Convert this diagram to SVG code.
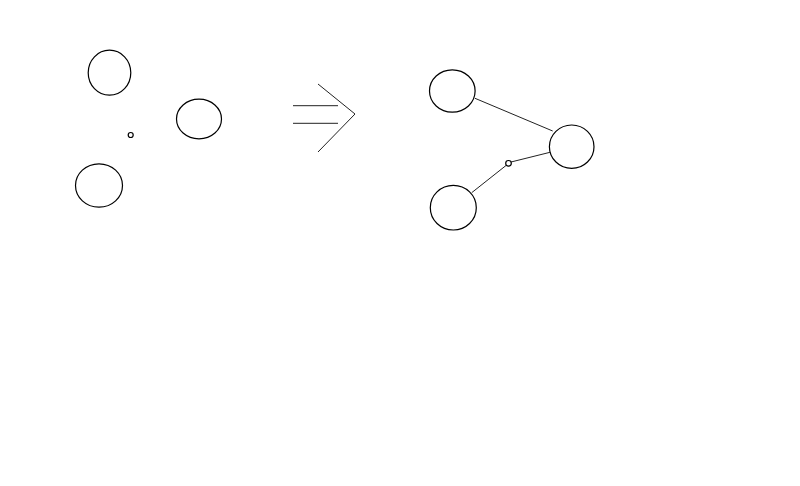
<svg xmlns="http://www.w3.org/2000/svg" width="800" height="486" viewBox="0 0 800 486">
<style>
.n{fill:none;stroke:#000;stroke-width:1.2}
.c{fill:none;stroke:#222;stroke-width:1}
</style>
<rect width="800" height="486" fill="#fff"/>
<g id="left-node-1"><ellipse class="n" cx="109.5" cy="72.7" rx="21.3" ry="22.5"/></g>
<g id="left-node-2"><ellipse class="n" cx="199" cy="119" rx="22.5" ry="19.8"/></g>
<g id="left-node-3"><ellipse class="n" cx="99" cy="185.5" rx="23.5" ry="21.7"/></g>
<g id="left-dot"><circle class="n" cx="130.7" cy="135" r="2.5" stroke-width="0.9"/></g>
<g id="implies-arrow">
<line class="c" x1="293" y1="105.7" x2="338" y2="105.7"/>
<line class="c" x1="293" y1="123.3" x2="338" y2="123.3"/>
<polyline class="c" points="318,84 355,114 318,152"/>
</g>
<g id="right-node-a"><ellipse class="n" cx="452.3" cy="91" rx="22.8" ry="21.2"/></g>
<g id="right-node-b"><ellipse class="n" cx="571.7" cy="146.7" rx="22.3" ry="21.7"/></g>
<g id="right-node-c"><ellipse class="n" cx="453.3" cy="207.7" rx="23" ry="22.3"/></g>
<g id="connectors">
<line class="c" x1="475" y1="98.3" x2="552.7" y2="131"/>
<line class="c" x1="550" y1="152.3" x2="511" y2="162"/>
<line class="c" x1="506" y1="165.5" x2="471.7" y2="192.7"/>
<circle class="n" cx="508.5" cy="163.3" r="2.8" stroke-width="0.9"/>
</g>
</svg>
